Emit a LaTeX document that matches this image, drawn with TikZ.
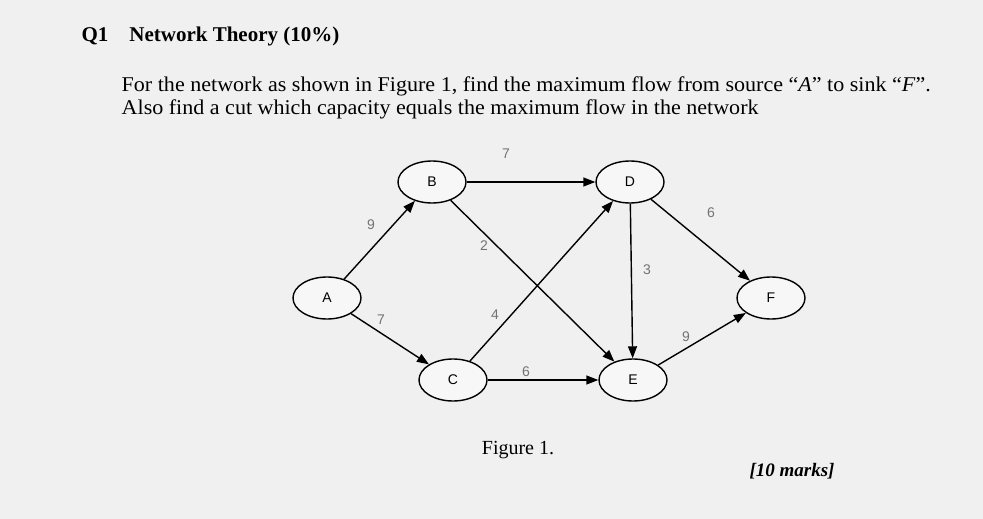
\documentclass[tikz,border=0pt]{standalone}
\usepackage{fontspec}
\setmainfont{Liberation Serif}
\newfontfamily\sansf{Liberation Sans}
\usetikzlibrary{shapes.geometric,arrows.meta}
\begin{document}
\begin{tikzpicture}[x=1pt,y=-1pt,
  nd/.style={ellipse,draw,line width=1.4pt,minimum width=68pt,minimum height=42pt,inner sep=0pt,font=\sansf\fontsize{14}{14}\selectfont,fill=gray!6},
  ed/.style={line width=1.4pt,-{Triangle[length=12pt,width=9pt]}},
  lb/.style={font=\sansf\fontsize{14}{14}\selectfont,text=black!55}]
\fill[gray!12] (0,0) rectangle (983,519);
\node[anchor=west,font=\bfseries\fontsize{21}{21}\selectfont] (t) at (78,36) {Q1\quad Network Theory (10\%)};
\node[anchor=west,font=\fontsize{21}{21}\selectfont,xscale=1.05,transform shape] (l1) at (118,86) {For the network as shown in Figure 1, find the maximum flow from source ``\textit{A}'' to sink ``\textit{F}''.};
\node[anchor=west,font=\fontsize{21}{21}\selectfont,xscale=1.05,transform shape] (l2) at (118,109) {Also find a cut which capacity equals the maximum flow in the network};
\node[nd] (A) at (327,298) {A};
\node[nd] (B) at (432,182) {B};
\node[nd] (D) at (630,182) {D};
\node[nd] (C) at (453,380) {C};
\node[nd] (E) at (633,380) {E};
\node[nd] (F) at (771,298) {F};
\draw[ed] (A) -- (B);
\draw[ed] (A) -- (C);
\draw[ed] (B) -- (D);
\draw[ed] (B) -- (E);
\draw[ed] (C) -- (D);
\draw[ed] (D) -- (E);
\draw[ed] (C) -- (E);
\draw[ed] (D) -- (F);
\draw[ed] (E) -- (F);
\node[lb] (w1) at (371,225) {9};
\node[lb] (w2) at (381,320) {7};
\node[lb] (w3) at (506,154) {7};
\node[lb] (w4) at (484,246) {2};
\node[lb] (w5) at (495,315) {4};
\node[lb] (w6) at (647,270) {3};
\node[lb] (w7) at (526,372) {6};
\node[lb] (w8) at (711,213) {6};
\node[lb] (w9) at (686,337) {9};
\node[font=\fontsize{20}{20}\selectfont] (fig) at (518,450) {Figure 1.};
\node[font=\bfseries\itshape\fontsize{19}{19}\selectfont] (m) at (792,471) {[10 marks]};
\end{tikzpicture}
\end{document}
